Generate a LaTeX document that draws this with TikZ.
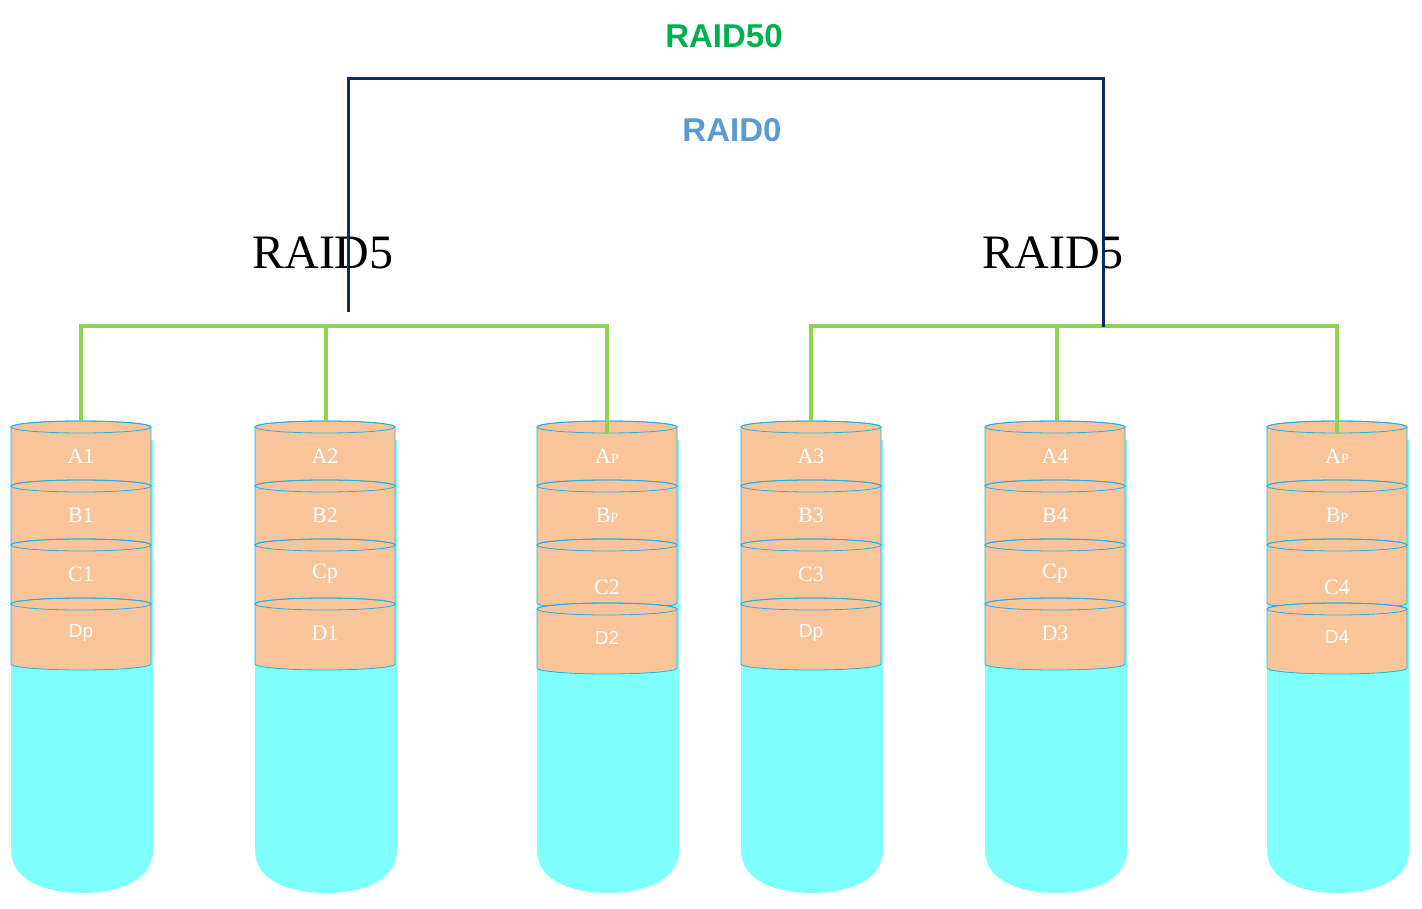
\documentclass[tikz,border=0pt]{standalone}
\usepackage{fontspec}
\setmainfont{Liberation Serif}
\newfontfamily\sansf{Liberation Sans}
\begin{document}
\begin{tikzpicture}[x=1pt,y=-1pt,
  seg/.style={fill=segfill,draw=segline,line width=0.8pt},
  lbl/.style={text=white,font=\fontsize{22}{22}\selectfont},
  slbl/.style={text=white,font=\sansf\fontsize{19}{19}\selectfont},
  green/.style={draw=linegreen,line width=3.8pt},
  navy/.style={draw=navyline,line width=3pt}]
\definecolor{segfill}{HTML}{F8C59B}
\definecolor{segline}{HTML}{1CB0E8}
\definecolor{cyanbody}{HTML}{80FFFF}
\definecolor{linegreen}{HTML}{92D050}
\definecolor{navyline}{HTML}{0F2A6B}
\useasboundingbox (0,0) rectangle (1422,909);
\newcommand\dseg[3]{%
  \path[seg] (#1-70,#2) -- (#1-70,#3) arc[start angle=180,end angle=0,x radius=70,y radius=6] -- (#1+70,#2) arc[start angle=0,end angle=-180,x radius=70,y radius=6] -- cycle;
  \draw[segline,line width=0.8pt] (#1,#2) ellipse[x radius=70,y radius=6];}
\newcommand\dbody[1]{%
  \fill[cyanbody] (#1-70,440) -- (#1-70,850) to[out=-90,in=180] (#1+1,893) to[out=0,in=-90] (#1+72,850) -- (#1+72,440) -- cycle;}
\foreach \c in {81,325,607,811,1055,1337} {\dbody{\c}}
\foreach \c in {81,325,811,1055} {
  \dseg{\c}{427}{486}\dseg{\c}{486}{545}\dseg{\c}{545}{604}\dseg{\c}{604}{664}}
\foreach \c in {607,1337} {
  \dseg{\c}{427}{486}\dseg{\c}{486}{545}\dseg{\c}{545}{603}\dseg{\c}{609}{668}}
\node[lbl] (a1) at (81,456) {A1}; \node[lbl] (b1) at (81,515) {B1}; \node[lbl] (c1) at (81,574) {C1}; \node[slbl] (d1) at (81,633) {Dp};
\node[lbl] (a2) at (325,456) {A2}; \node[lbl] (b2) at (325,515) {B2}; \node[lbl] (c2) at (325,574) {Cp}; \node[lbl] (d2) at (325,633) {D1};
\node[lbl] (a3) at (607,456) {A{\fontsize{14}{14}\selectfont P}}; \node[lbl] (b3) at (607,515) {B{\fontsize{14}{14}\selectfont P}}; \node[lbl] (c3) at (607,587) {C2}; \node[slbl] (d3) at (607,638) {D2};
\node[lbl] (a4) at (811,456) {A3}; \node[lbl] (b4) at (811,515) {B3}; \node[lbl] (c4) at (811,574) {C3}; \node[slbl] (d4) at (811,633) {Dp};
\node[lbl] (a5) at (1055,456) {A4}; \node[lbl] (b5) at (1055,515) {B4}; \node[lbl] (c5) at (1055,574) {Cp}; \node[lbl] (d5) at (1055,633) {D3};
\node[lbl] (a6) at (1337,456) {A{\fontsize{14}{14}\selectfont P}}; \node[lbl] (b6) at (1337,515) {B{\fontsize{14}{14}\selectfont P}}; \node[lbl] (c6) at (1337,587) {C4}; \node[slbl] (d6) at (1337,637) {D4};
\node[text=black,font=\fontsize{48}{48}\selectfont] (r5a) at (323,253) {RAID5};
\node[text=black,font=\fontsize{48}{48}\selectfont] (r5b) at (1053,253) {RAID5};
\node[text={rgb,255:red,0;green,176;blue,80},font=\sansf\bfseries\fontsize{33}{33}\selectfont] (r50) at (724,36) {RAID50};
\node[text={rgb,255:red,91;green,155;blue,213},font=\sansf\bfseries\fontsize{33}{33}\selectfont] (r0) at (732,130) {RAID0};
\coordinate (t1) at (81,421); \coordinate (t2) at (326,421); \coordinate (t3) at (607,434);
\coordinate (t4) at (811,421); \coordinate (t5) at (1057,421); \coordinate (t6) at (1337,434);
\coordinate (g1) at (81,326); \coordinate (g2) at (607,326); \coordinate (g3) at (811,326); \coordinate (g4) at (1337,326);
\draw[green] (t1) -- (g1) -- (g2) -- (t3);
\draw[green] (t2) -- (326,326);
\draw[green] (t4) -- (g3) -- (g4) -- (t6);
\draw[green] (t5) -- (1057,326);
\coordinate (n1) at (348,312); \coordinate (n2) at (1103,327);
\draw[navy] (n1) -- (348,79) -- (1103,79) -- (n2);
\end{tikzpicture}
\end{document}
